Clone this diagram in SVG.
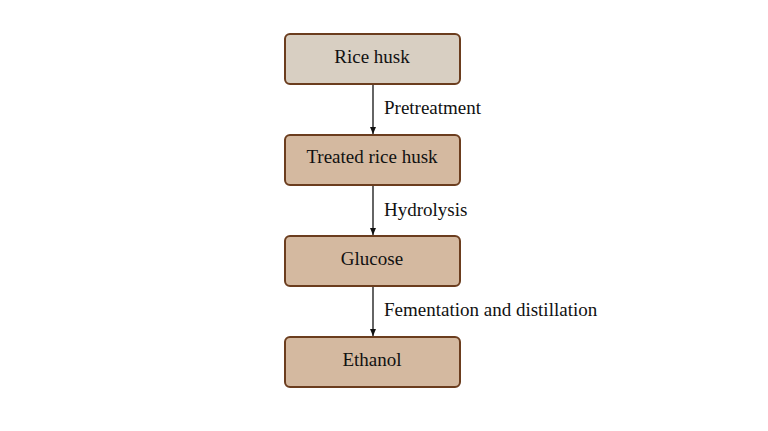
<svg xmlns="http://www.w3.org/2000/svg" width="768" height="431" viewBox="0 0 768 431">
<style>
.b{stroke:#6b3d1e;stroke-width:2}
.t{font-family:"Liberation Serif",serif;font-size:19px;fill:#111}
.c{stroke:#111;stroke-width:1.3;fill:none}
</style>
<defs><marker id="a" markerWidth="8" markerHeight="8" refX="7" refY="4" orient="auto" markerUnits="userSpaceOnUse"><path d="M0,1 L7,4 L0,7 Z" fill="#111"/></marker></defs>
<rect width="768" height="431" fill="#fff"/>
<g id="n1"><rect class="b" x="285" y="34" width="175" height="50" rx="5" fill="#d8cfc2"/><text class="t" x="372" y="63" text-anchor="middle">Rice husk</text></g>
<g id="n2"><rect class="b" x="285" y="135" width="175" height="50" rx="5" fill="#d4b9a0"/><text class="t" x="372" y="163" text-anchor="middle">Treated rice husk</text></g>
<g id="n3"><rect class="b" x="285" y="236" width="175" height="50" rx="5" fill="#d4b9a0"/><text class="t" x="372" y="265" text-anchor="middle">Glucose</text></g>
<g id="n4"><rect class="b" x="285" y="337" width="175" height="50" rx="5" fill="#d4b9a0"/><text class="t" x="372" y="366" text-anchor="middle">Ethanol</text></g>
<g id="edges">
<path class="c" d="M373,85 V134" marker-end="url(#a)"/>
<path class="c" d="M373,186 V235" marker-end="url(#a)"/>
<path class="c" d="M373,287 V336" marker-end="url(#a)"/>
<text class="t" x="384" y="114">Pretreatment</text>
<text class="t" x="384" y="216">Hydrolysis</text>
<text class="t" x="384" y="316">Fementation and distillation</text>
</g>
</svg>
